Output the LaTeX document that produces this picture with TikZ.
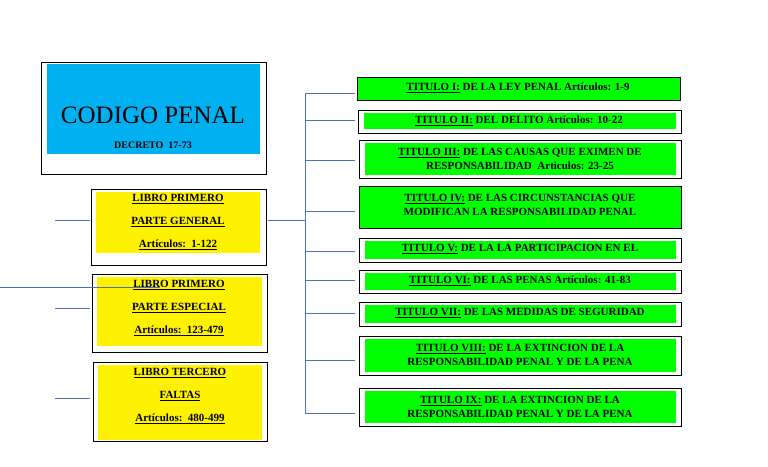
\documentclass[tikz,border=0pt]{standalone}
\usepackage{fontspec}
\setmainfont{Liberation Serif}
\usetikzlibrary{positioning}
\definecolor{skyblue}{RGB}{0,176,240}
\definecolor{brightgreen}{RGB}{0,255,0}
\definecolor{linkblue}{RGB}{79,112,190}
\newcommand{\ul}[1]{\underline{#1}}
\begin{document}
\begin{tikzpicture}
        [x=1pt,y=-1pt,
         link/.style={draw=linkblue,line width=0.8pt},
         frame/.style={draw=black,line width=0.8pt},
         booktxt/.style={align=center,font=\bfseries\fontsize{11}{23}\selectfont},
         titletxt/.style={align=center,font=\bfseries\fontsize{11}{14}\selectfont}]

        \useasboundingbox (0,0) rectangle (768,466);

        % cabecera
        \draw[frame] (41,62) rectangle (266,174);
        \fill[skyblue] (47,64) rectangle (260,154);
        \node[font=\fontsize{25}{28}\selectfont] (codigo) at (153,115) {CODIGO PENAL};
        \node[font=\bfseries\fontsize{10}{12}\selectfont] (decreto) at (153,145) {DECRETO\ \ 17-73};

        % libros
        \draw[frame] (91,189) rectangle (266,265);
        \fill[yellow] (96,192) rectangle (260,253);
        \node[booktxt] (libro1) at (178,222) {\ul{LIBRO PRIMERO}\\\ul{PARTE GENERAL}\\\ul{Artículos:\ \ 1-122}};

        \draw[frame] (92,274) rectangle (267,352);
        \fill[yellow] (97,277) rectangle (262,346);
        \node[booktxt] (libro2) at (179,308) {\ul{LIBRO PRIMERO}\\\ul{PARTE ESPECIAL}\\\ul{Artículos:\ \ 123-479}};

        \draw[frame] (93,362) rectangle (267,441);
        \fill[yellow] (98,365) rectangle (262,440);
        \node[booktxt] (libro3) at (180,396) {\ul{LIBRO TERCERO}\\\ul{FALTAS}\\\ul{Artículos:\ \ 480-499}};

        \coordinate (s1) at (55,220);
        \coordinate (s2) at (55,308);
        \coordinate (s3) at (55,398);
        \draw[link] (s1) -- +(35,0);
        \draw[link] (s2) -- +(35,0);
        \draw[link] (s3) -- +(35,0);
        \draw[link] (0,287) -- (160,287);

        % titulos
        \draw[frame,fill=brightgreen] (357,77) rectangle (680,100);
        \node[titletxt] (t1) at (518,88) {\ul{TITULO I:} DE LA LEY PENAL Artículos: 1-9};

        \draw[frame] (358,110) rectangle (681,133);
        \fill[brightgreen] (364,113) rectangle (676,129);
        \node[titletxt] (t2) at (519,121) {\ul{TITULO II:} DEL DELITO Artículos: 10-22};

        \draw[frame] (359,140) rectangle (681,178);
        \fill[brightgreen] (365,143) rectangle (676,175);
        \node[titletxt] (t3) at (520,159) {\ul{TITULO III:} DE LAS CAUSAS QUE EXIMEN DE\\RESPONSABILIDAD\ \ Articulos: 23-25};

        \draw[frame,fill=brightgreen] (359,186) rectangle (681,228);
        \node[titletxt] (t4) at (520,205) {\ul{TITULO IV:} DE LAS CIRCUNSTANCIAS QUE\\MODIFICAN LA RESPONSABILIDAD PENAL};

        \draw[frame] (359,238) rectangle (681,262);
        \fill[brightgreen] (365,241) rectangle (676,259);
        \node[titletxt] (t5) at (520,249) {\ul{TITULO V:} DE LA LA PARTICIPACION EN EL};

        \draw[frame] (359,270) rectangle (681,293);
        \fill[brightgreen] (365,273) rectangle (676,290);
        \node[titletxt] (t6) at (520,281) {\ul{TITULO VI:} DE LAS PENAS Artículos: 41-83};

        \draw[frame] (359,302) rectangle (681,326);
        \fill[brightgreen] (365,305) rectangle (676,323);
        \node[titletxt] (t7) at (520,313) {\ul{TITULO VII:} DE LAS MEDIDAS DE SEGURIDAD};

        \draw[frame] (359,336) rectangle (681,375);
        \fill[brightgreen] (365,339) rectangle (676,372);
        \node[titletxt] (t8) at (520,355) {\ul{TITULO VIII:} DE LA EXTINCION DE LA\\RESPONSABILIDAD PENAL Y DE LA PENA};

        \draw[frame] (359,388) rectangle (681,426);
        \fill[brightgreen] (365,391) rectangle (676,423);
        \node[titletxt] (t9) at (520,407) {\ul{TITULO IX:} DE LA EXTINCION DE LA\\RESPONSABILIDAD PENAL Y DE LA PENA};

        % conectores
        \coordinate (trunktop) at (305,93);
        \coordinate (trunkbot) at (305,413);
        \draw[link] (268,220) -- (305,220);
        \draw[link] (trunktop) -- (trunkbot);
        \foreach \y in {93,120,160,211,251,280,313,360,413}
            \draw[link] (305,\y) -- (355,\y);

\end{tikzpicture}
\end{document}
